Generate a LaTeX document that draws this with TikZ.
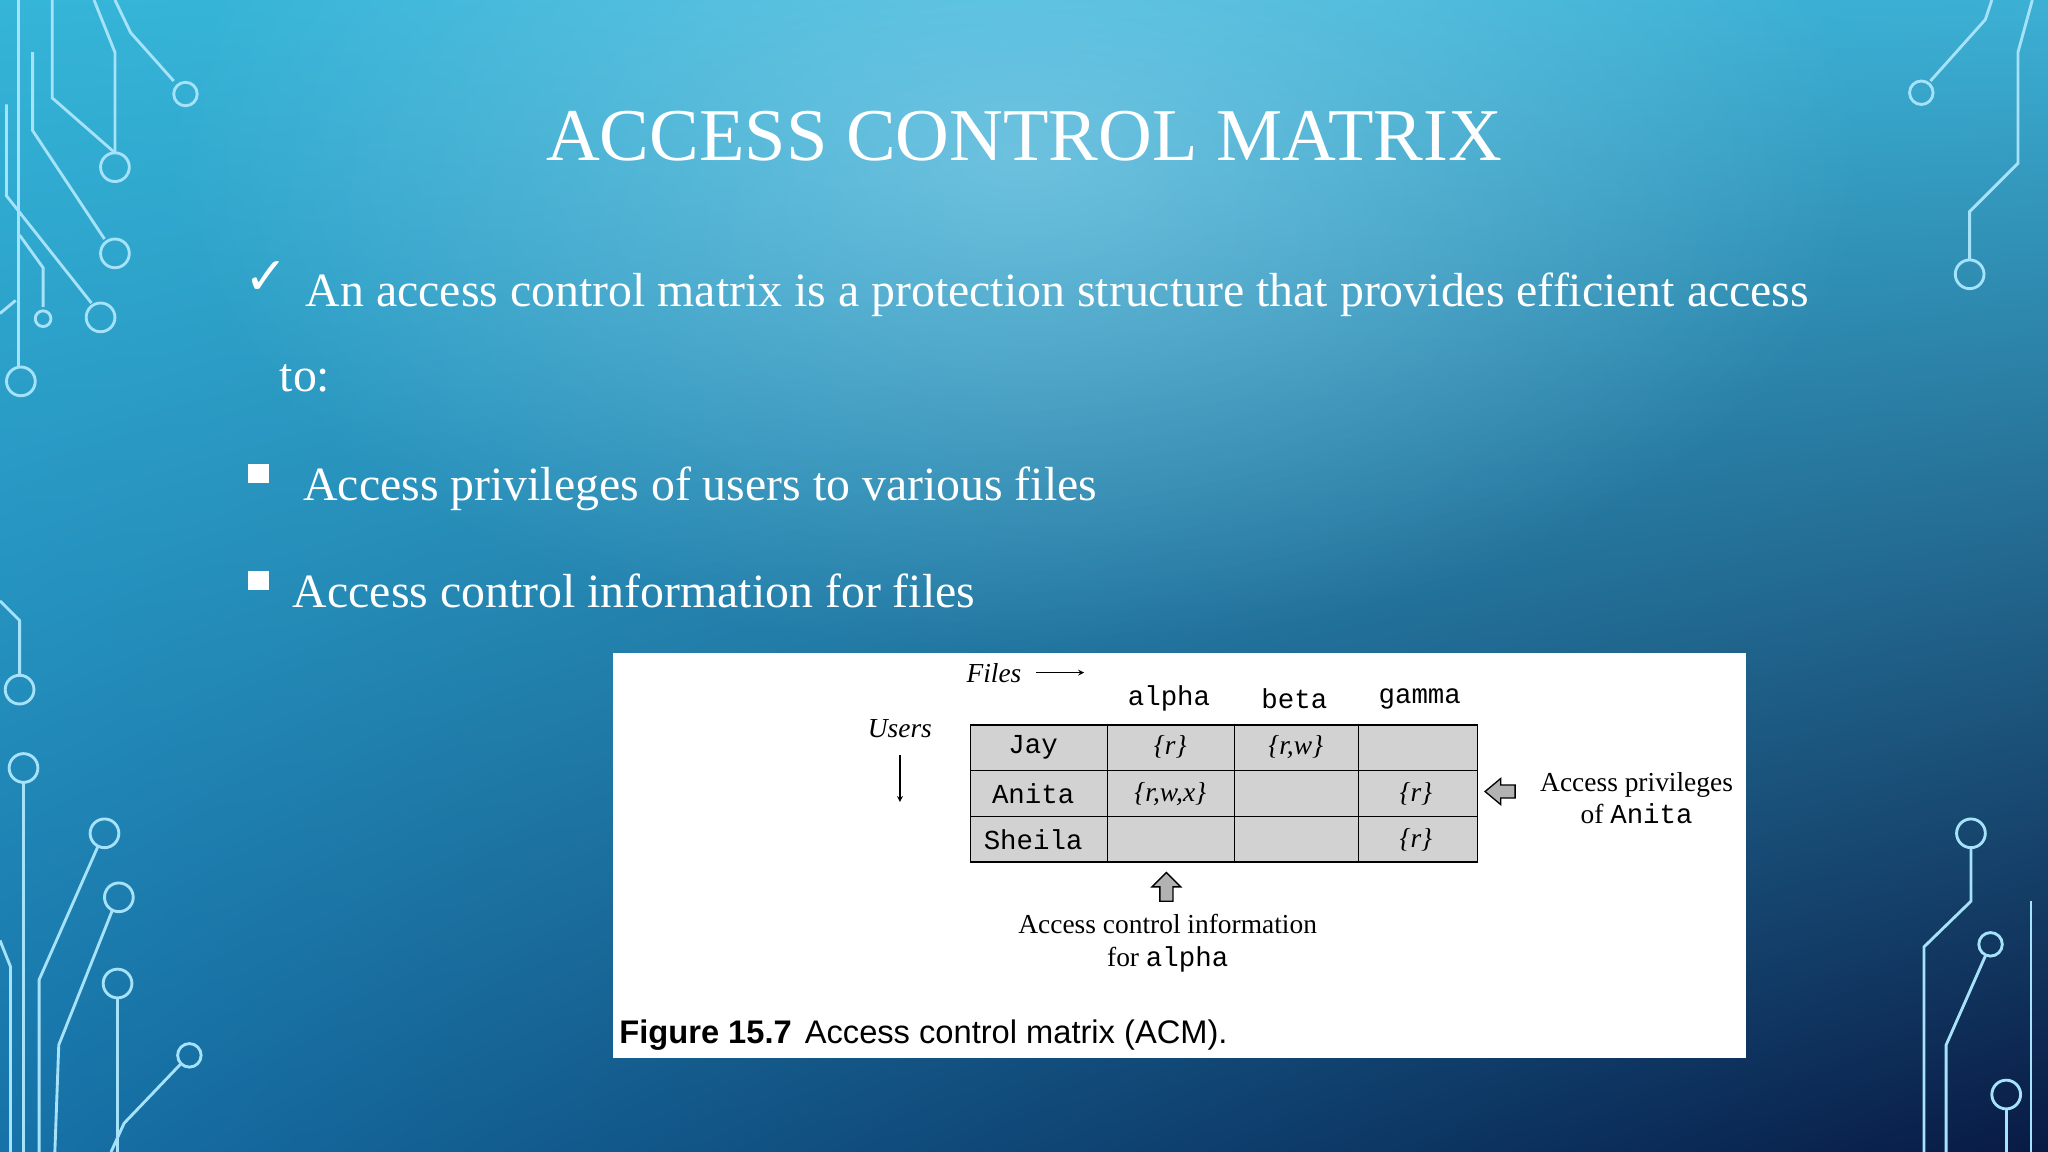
\documentclass[tikz,border=0pt]{standalone}
\usepackage{fontspec}
\usetikzlibrary{shadings,fadings}
\setmainfont{Liberation Serif}
\setmonofont{Liberation Mono}
\setsansfont{Liberation Sans}
\newfontfamily\dejavu{DejaVu Sans}
\tikzfading[name=glowfade, inner color=transparent!0, outer color=transparent!100]
\begin{document}
\begin{tikzpicture}[x=1pt,y=-1pt,
  circ/.style={draw=cyan!35!white,line width=2.2pt},
  cell/.style={draw=black,fill=gray!35,line width=1pt},
  body/.style={anchor=base west,text=white,font=\fontsize{36.6}{40}\selectfont,inner sep=0},
  mono/.style={font=\ttfamily\fontsize{21}{24}\selectfont,inner sep=0},
  ital/.style={font=\itshape\fontsize{21}{24}\selectfont,inner sep=0},
  lab/.style={font=\fontsize{21}{25}\selectfont,align=center,inner sep=0},
  blk/.style={draw=black,fill=gray!60,line width=1pt,line join=miter}]
\useasboundingbox (0,0) rectangle (1568,882);
\definecolor{ul}{HTML}{35B5D8}\definecolor{ur}{HTML}{3CB0D4}
\definecolor{ll}{HTML}{1672A8}\definecolor{lr}{HTML}{081A44}
\shade[upper left=ul,upper right=ur,lower left=ll,lower right=lr] (0,0) rectangle (1568,882);
\fill[cyan!30!white,fill opacity=0.45,path fading=glowfade,fit fading=true] (780,120) ellipse (650 and 380);
% circuit decoration
\begin{scope}[circ]
\draw (14,0)--(14,280); \draw (16,292) circle (11);
\draw (40,0)--(40,75)--(88,117); \draw (88,128) circle (11);
\draw (72,0)--(88,40)--(88,117);
\draw (88,0)--(100,25)--(133,62); \draw (142,72) circle (9);
\draw (25,40)--(25,100)--(80,183); \draw (88,194) circle (11);
\draw (5,80)--(5,150)--(70,232); \draw (77,243) circle (11);
\draw (15,180)--(33,205)--(33,235); \draw (33,244) circle (6);
\draw (0,240)--(12,230);
\draw (0,460)--(15,475)--(15,517); \draw (15,528) circle (11);
\draw (18,588) circle (11); \draw (18,599)--(18,882);
\draw (0,720)--(8,740)--(8,882);
\draw (80,638) circle (11); \draw (75,648)--(30,750)--(30,882);
\draw (91,687) circle (11); \draw (86,697)--(45,800)--(42,882);
\draw (90,753) circle (11); \draw (90,764)--(90,882);
\draw (145,808) circle (9); \draw (138,815)--(95,860)--(85,882);
\draw (1525,0)--(1520,15)--(1478,62); \draw (1471,71) circle (9);
\draw (1556,0)--(1545,40)--(1545,125)--(1508,162)--(1508,199); \draw (1508,210) circle (11);
\draw (1509,638) circle (11); \draw (1509,649)--(1509,690)--(1473,725)--(1473,882);
\draw (1524,723) circle (9); \draw (1520,732)--(1490,800)--(1490,882);
\draw (1536,838) circle (11); \draw (1536,849)--(1536,882);
\draw (1555,690)--(1555,882);
\end{scope}
% title and bullets
\node[text=white,font=\fontsize{57}{60}\selectfont,inner sep=0] (title) at (784,104) {ACCESS CONTROL MATRIX};
\node[text=white,font=\dejavu\fontsize{40}{42}\selectfont,inner sep=0] (chk) at (204,213) {✓};
\node[body] (l1) at (234,235) {An access control matrix is a protection structure that provides efficient access};
\node[body] (l2) at (214,300) {to:};
\fill[white] (190,355) rectangle (206,370);
\node[body] (l3) at (232,383) {Access privileges of users to various files};
\fill[white] (190,437) rectangle (206,452);
\node[body] (l4) at (224,465) {Access control information for files};
% figure
\fill[white] (469,500) rectangle (1337,810);
\foreach \r/\ya/\yb in {1/555/590,2/590/625,3/625/660}{
  \foreach \c/\xa/\xb in {1/743/848,2/848/945,3/945/1040,4/1040/1131}{
    \draw[cell] (\xa,\ya) rectangle (\xb,\yb);}}
\node[mono] (alpha) at (895,535) {alpha};
\node[mono] (beta) at (991,535) {beta};
\node[mono] (gamma) at (1087,535) {gamma};
\node[mono] (jay) at (791,572) {Jay};
\node[mono] (anita) at (791,608) {Anita};
\node[mono] (sheila) at (791,643) {Sheila};
\node[ital] (c11) at (896,572) {\{r\}};
\node[ital] (c12) at (992,572) {\{r,w\}};
\node[ital] (c21) at (896,608) {\{r,w,x\}};
\node[ital] (c23) at (1084,608) {\{r\}};
\node[ital] (c33) at (1084,643) {\{r\}};
\node[ital] (files) at (761,515) {Files};
\coordinate (fa) at (793,515); \coordinate (fb) at (830,515);
\draw[-stealth,line width=1pt] (fa)--(fb);
\node[ital] (users) at (689,558) {Users};
\coordinate (ua) at (689,578); \coordinate (ub) at (689,614);
\draw[-stealth,line width=1pt] (ua)--(ub);
\draw[blk] (893,668)--(904,679)--(898,679)--(898,690)--(888,690)--(888,679)--(882,679)--cycle;
\draw[blk] (1137,606)--(1149,596)--(1149,601)--(1160,601)--(1160,611)--(1149,611)--(1149,616)--cycle;
\node[lab] (apa) at (1253,611) {Access privileges\\of \texttt{Anita}};
\node[lab] (aci) at (894,722) {Access control information\\for \texttt{alpha}};
\node[anchor=base west,inner sep=0,font=\sffamily\fontsize{25}{28}\selectfont] (cap) at (474,799)
  {\textbf{Figure 15.7}\hspace{10pt}Access control matrix (ACM).};
\end{tikzpicture}
\end{document}
